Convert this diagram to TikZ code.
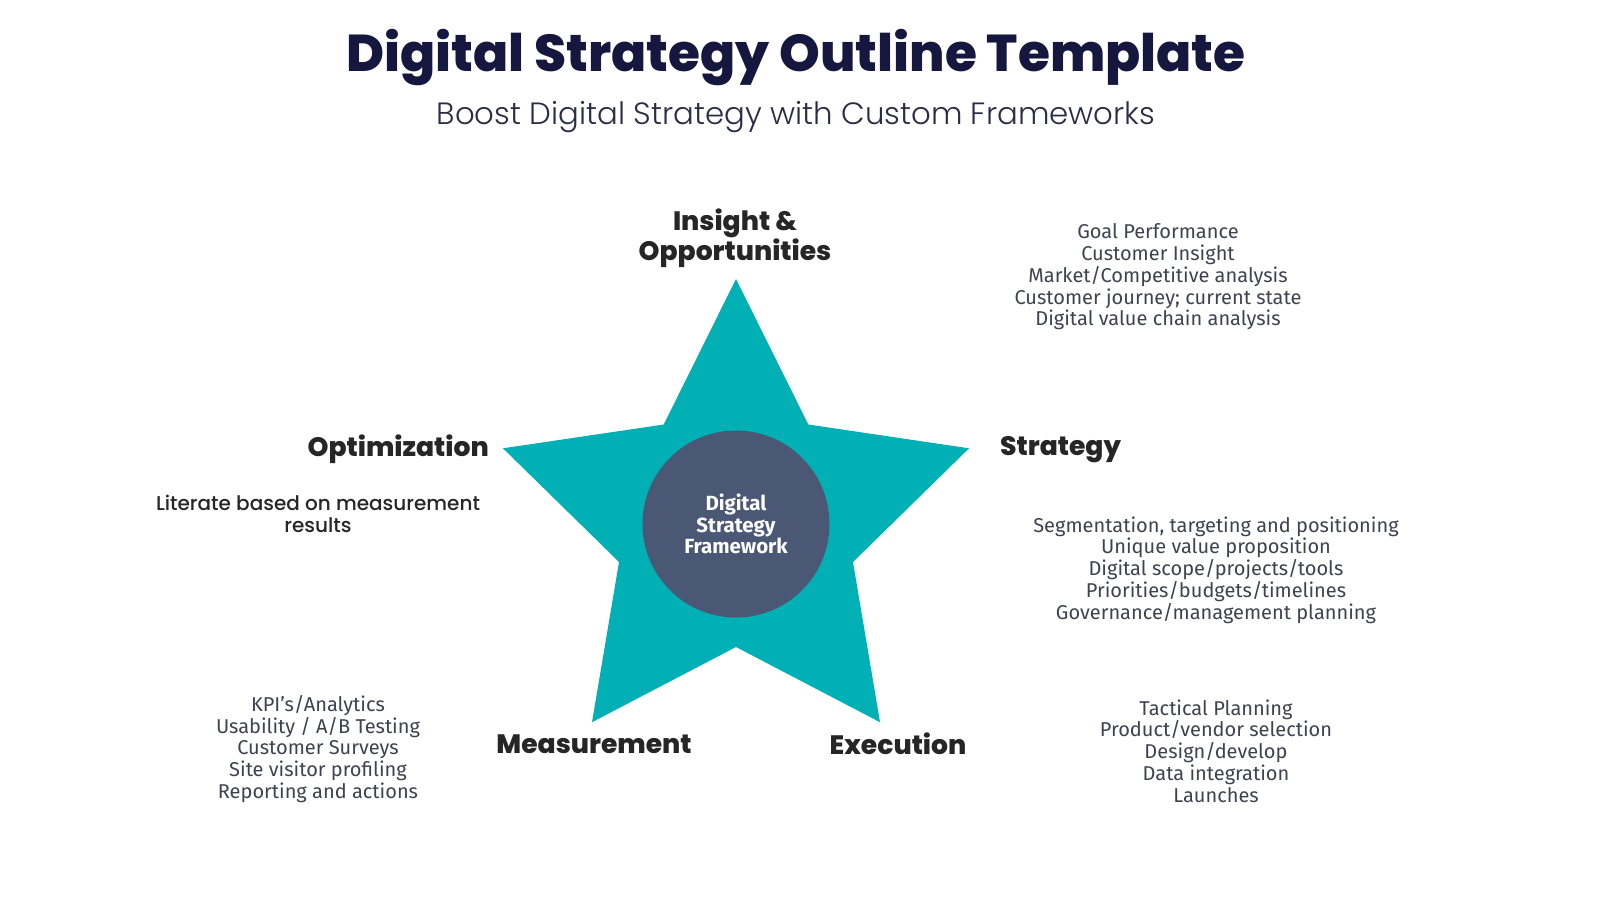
\documentclass[tikz,border=0pt]{standalone}
\usepackage{fontspec}
\setmainfont{Fira Sans}
\newfontfamily\popfont{Poppins}
\IfFontExistsTF{Poppins ExtraBold}{\newfontfamily\popheavy{Poppins ExtraBold}}{\newfontfamily\popheavy{Poppins Bold}}
\IfFontExistsTF{Poppins Light}{\newfontfamily\poplight{Poppins Light}}{\newfontfamily\poplight{Poppins}}
\IfFontExistsTF{Poppins Medium}{\newfontfamily\popmed{Poppins Medium}}{\newfontfamily\popmed{Poppins}}
\newfontfamily\listfont{Fira Sans}
\definecolor{titlecol}{HTML}{15173F}
\definecolor{subcol}{HTML}{2A2D45}
\definecolor{starcol}{HTML}{00B0B5}
\definecolor{circcol}{HTML}{4A5875}
\definecolor{labcol}{HTML}{262626}
\definecolor{listcol}{HTML}{3F4350}
\tikzset{
  titletext/.style={text=titlecol, font=\popheavy\fontsize{51.8}{56}\selectfont, inner sep=0pt},
  subtext/.style={text=subcol, font=\poplight\fontsize{30.8}{34}\selectfont, inner sep=0pt},
  labeltext/.style={text=labcol, font=\popheavy\fontsize{26.6}{29}\selectfont, inner sep=0pt, align=center},
  notetext/.style={text=labcol, font=\popmed\fontsize{20}{21.5}\selectfont, inner sep=0pt, align=center},
  listtext/.style={text=listcol, font=\listfont\fontsize{20}{21.7}\selectfont, inner sep=0pt, align=center},
  hub/.style={circle, fill=circcol, minimum size=187pt, inner sep=0pt, text=white, align=center,
    font=\bfseries\fontsize{20.5}{21.5}\selectfont},
}
\begin{document}
\begin{tikzpicture}[x=1pt, y=-1pt]
\path[use as bounding box, fill=white] (0,0) rectangle (1600,900);
% title
\node[titletext] (title) at (796,58) {Digital Strategy Outline Template};
\node[subtext] (subtitle) at (796,117) {Boost Digital Strategy with Custom Frameworks};
% star
\fill[starcol] (736,279) -- (808.3,424.5) -- (969.0,448.3) -- (853.0,562.0) -- (880.0,722.2)
  -- (736,647) -- (592.0,722.2) -- (619.0,562.0) -- (503.0,448.3) -- (663.7,424.5) -- cycle;
\node[hub] (hub) at (736,524) {Digital\\Strategy\\Framework};
% labels
\node[labeltext] (insight) at (735,238) {Insight \&\\Opportunities};
\node[labeltext, anchor=east] (optim) at (489,449) {Optimization};
\node[labeltext, anchor=west] (strat) at (1000,450) {Strategy};
\node[labeltext] (meas) at (594,744) {Measurement};
\node[labeltext] (exec) at (898,744) {Execution};
% notes
\node[notetext] (optnote) at (318,514) {Literate based on measurement\\results};
\node[listtext] (inslist) at (1158,277) {Goal Performance\\Customer Insight\\Market/Competitive analysis\\Customer journey; current state\\Digital value chain analysis};
\node[listtext] (stratlist) at (1216,570) {Segmentation, targeting and positioning\\Unique value proposition\\Digital scope/projects/tools\\Priorities/budgets/timelines\\Governance/management planning};
\node[listtext] (measlist) at (318,749) {KPI’s/Analytics\\Usability / A/B Testing\\Customer Surveys\\Site visitor profiling\\Reporting and actions};
\node[listtext] (execlist) at (1216,751) {Tactical Planning\\Product/vendor selection\\Design/develop\\Data integration\\Launches};
\end{tikzpicture}
\end{document}
